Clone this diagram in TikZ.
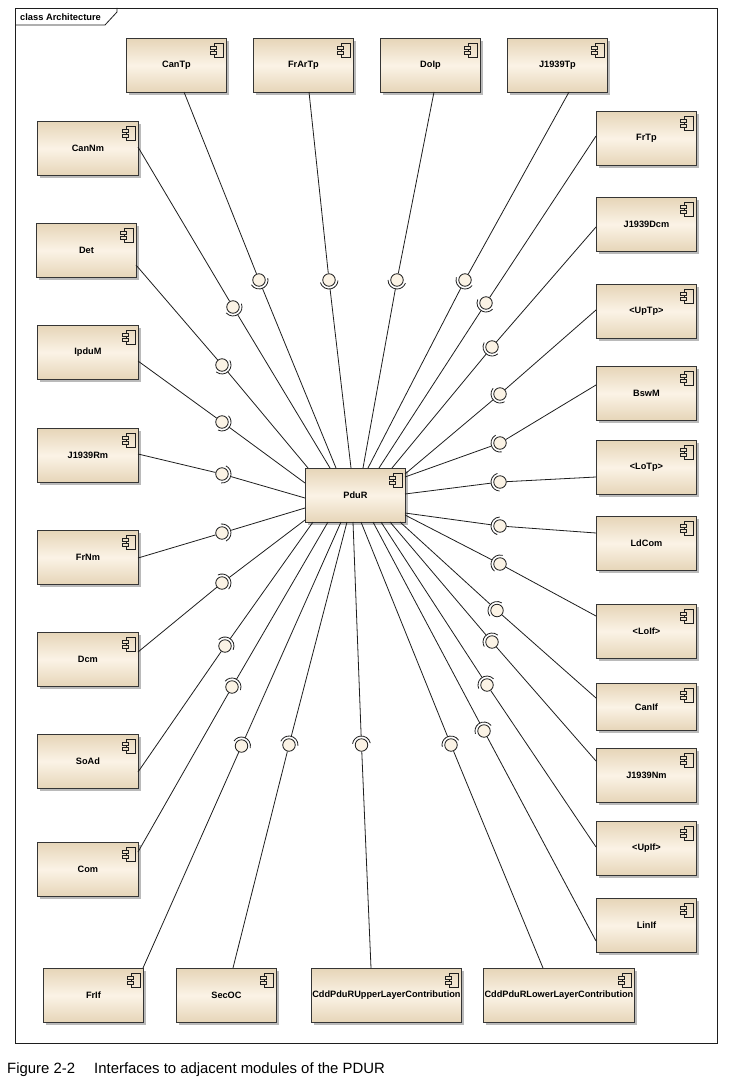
\documentclass[tikz,border=0pt]{standalone}
\usepackage{fontspec}
\setmainfont{Liberation Sans}
\usetikzlibrary{calc}
\definecolor{boxedge}{HTML}{E6D5B8}
\definecolor{boxmid}{HTML}{FBF3E6}
\definecolor{ballfill}{HTML}{FBF3E5}
\definecolor{lineink}{HTML}{1E1E1E}
\tikzset{
  comp/.style={draw=lineink!90,line width=0.9pt,left color=boxedge,right color=boxedge,middle color=boxmid,
    shading angle=0,inner sep=0pt,font=\bfseries\fontsize{9.2}{11}\selectfont,text=black},
  compshadow/.style={fill=black!27,draw=none},
  wire/.style={draw=lineink,line width=0.8pt},
  ballnode/.style={circle,draw=lineink,line width=0.8pt,fill=ballfill,minimum size=12.5pt,inner sep=0pt},
  socket/.style={draw=lineink,line width=0.8pt},
  iconpart/.style={draw=lineink,line width=0.7pt}
}
% name, label, x1, y1, x2, y2
\newcommand\module[6]{%
  \fill[compshadow] (#3+3,#4+3) rectangle (#5+3,#6+3);
  \node[comp,minimum width=#5pt-#3pt,minimum height=#6pt-#4pt,anchor=north west] (#1) at (#3,#4) {#2};
  \draw[iconpart] ($(#1.north east)+(-13,5)$) rectangle ($(#1.north east)+(-4,19)$);
  \draw[iconpart,fill=boxedge!60!boxmid] ($(#1.north east)+(-17,8)$) rectangle ($(#1.north east)+(-11,11.5)$);
  \draw[iconpart,fill=boxedge!60!boxmid] ($(#1.north east)+(-17,13)$) rectangle ($(#1.north east)+(-11,16.5)$);
}
% id, module port, ball, PduR port
\newcommand\iface[7]{%
  \coordinate (#1m) at (#2,#3);
  \coordinate (#1p) at (#6,#7);
  \node[ballnode] (#1b) at (#4,#5) {};
  \coordinate (#1s) at ($(#1b.center)!9pt!(#1p)$);
  \draw[wire] (#1m) -- (#1b);
  \draw[wire] (#1p) -- (#1s);
  \draw[socket] let \p1=($(#1p)-(#1b.center)$),\n1={atan2(\y1,\x1)} in
    ($(#1b.center)+(\n1-80:9pt)$) arc[start angle=\n1-80,end angle=\n1+80,radius=9pt];
}
\begin{document}
\begin{tikzpicture}[x=1pt,y=-1pt]
\useasboundingbox (0,0) rectangle (729,1081);
\fill[white] (0,0) rectangle (729,1081);
% frame
\node[inner sep=0pt,minimum width=702pt,minimum height=1035pt,anchor=north west,draw=lineink,line width=0.8pt] (frame) at (15,8) {};
\draw[lineink,line width=0.8pt] (frame.north west) ++(0,17) -- ++(90,0) -- ++(12,-13) -- ++(0,-4);
\node[anchor=west,inner sep=0pt,font=\bfseries\fontsize{9.3}{11}\selectfont] (title) at (20,17) {class Architecture};
% modules
\module{CanTp}{CanTp}{126}{38}{226}{92}
\module{FrArTp}{FrArTp}{253}{38}{353}{92}
\module{DoIp}{DoIp}{380}{38}{480}{92}
\module{JTp}{J1939Tp}{507}{38}{607}{92}
\module{CanNm}{CanNm}{37}{121}{138}{175}
\module{FrTp}{FrTp}{596}{111}{696}{165}
\module{Det}{Det}{36}{223}{136}{277}
\module{JDcm}{J1939Dcm}{596}{197}{696}{251}
\module{IpduM}{IpduM}{37}{325}{138}{379}
\module{UpTp}{<UpTp>}{596}{284}{696}{338}
\module{JRm}{J1939Rm}{37}{428}{138}{482}
\module{BswM}{BswM}{596}{366}{696}{420}
\module{FrNm}{FrNm}{37}{530}{138}{584}
\module{LoTp}{<LoTp>}{596}{440}{696}{494}
\module{Dcm}{Dcm}{37}{632}{138}{686}
\module{LdCom}{LdCom}{596}{516}{696}{570}
\module{SoAd}{SoAd}{37}{734}{138}{788}
\module{LoIf}{<LoIf>}{596}{604}{696}{658}
\module{Com}{Com}{37}{842}{138}{896}
\module{CanIf}{CanIf}{596}{683}{696}{730}
\module{JNm}{J1939Nm}{596}{748}{696}{802}
\module{UpIf}{<UpIf>}{596}{821}{696}{875}
\module{LinIf}{LinIf}{596}{898}{696}{952}
\module{FrIf}{FrIf}{43}{968}{143}{1022}
\module{SecOC}{SecOC}{176}{968}{276}{1022}
\module{CddU}{CddPduRUpperLayerContribution}{311}{968}{461}{1022}
\module{CddL}{CddPduRLowerLayerContribution}{483}{968}{634}{1022}
\module{PduR}{PduR}{305}{468}{405}{522}
% interfaces
\iface{a}{184}{92}{259}{280}{336}{468}
\iface{b}{309}{92}{329}{280}{351}{468}
\iface{c}{434}{92}{397}{280}{363}{468}
\iface{d}{569}{92}{465}{280}{368}{468}
\iface{e}{138}{147}{233}{307}{330}{468}
\iface{f}{136}{265}{222}{365}{308}{468}
\iface{g}{138}{361}{222}{422}{305}{483}
\iface{h}{138}{454}{222}{474}{305}{498}
\iface{i}{138}{558}{222}{533}{305}{508}
\iface{j}{138}{652}{222}{583}{305}{520}
\iface{k}{138}{772}{225}{646}{313}{522}
\iface{l}{138}{852}{232}{687}{328}{522}
\iface{m}{143}{968}{241.5}{746}{341}{522}
\iface{n}{233}{968}{289}{745}{347}{522}
\iface{o}{371}{968}{361.5}{745}{353}{522}
\iface{p}{543}{968}{451}{745}{361}{522}
\iface{q}{596}{941}{484}{731}{373}{522}
\iface{r}{596}{847}{487}{685}{381}{522}
\iface{s}{596}{761}{492}{642}{390}{522}
\iface{t}{596}{698}{497}{610.5}{400}{522}
\iface{u}{596}{616}{500}{564}{405}{515}
\iface{v}{596}{533}{500}{526}{405}{513}
\iface{w}{596}{477}{500}{482}{405}{494}
\iface{x}{596}{385}{500}{443}{405}{477}
\iface{y}{596}{310}{500}{394}{405}{474}
\iface{z}{596}{227}{492}{347}{392}{468}
\iface{aa}{596}{136}{486}{303}{379}{468}
% caption
\node[anchor=base west,inner sep=0pt,font=\fontsize{14.9}{18}\selectfont] (capa) at (7,1073) {Figure 2-2};
\node[anchor=base west,inner sep=0pt,font=\fontsize{14.9}{18}\selectfont] (capb) at (94,1073) {Interfaces to adjacent modules of the PDUR};
\end{tikzpicture}
\end{document}
